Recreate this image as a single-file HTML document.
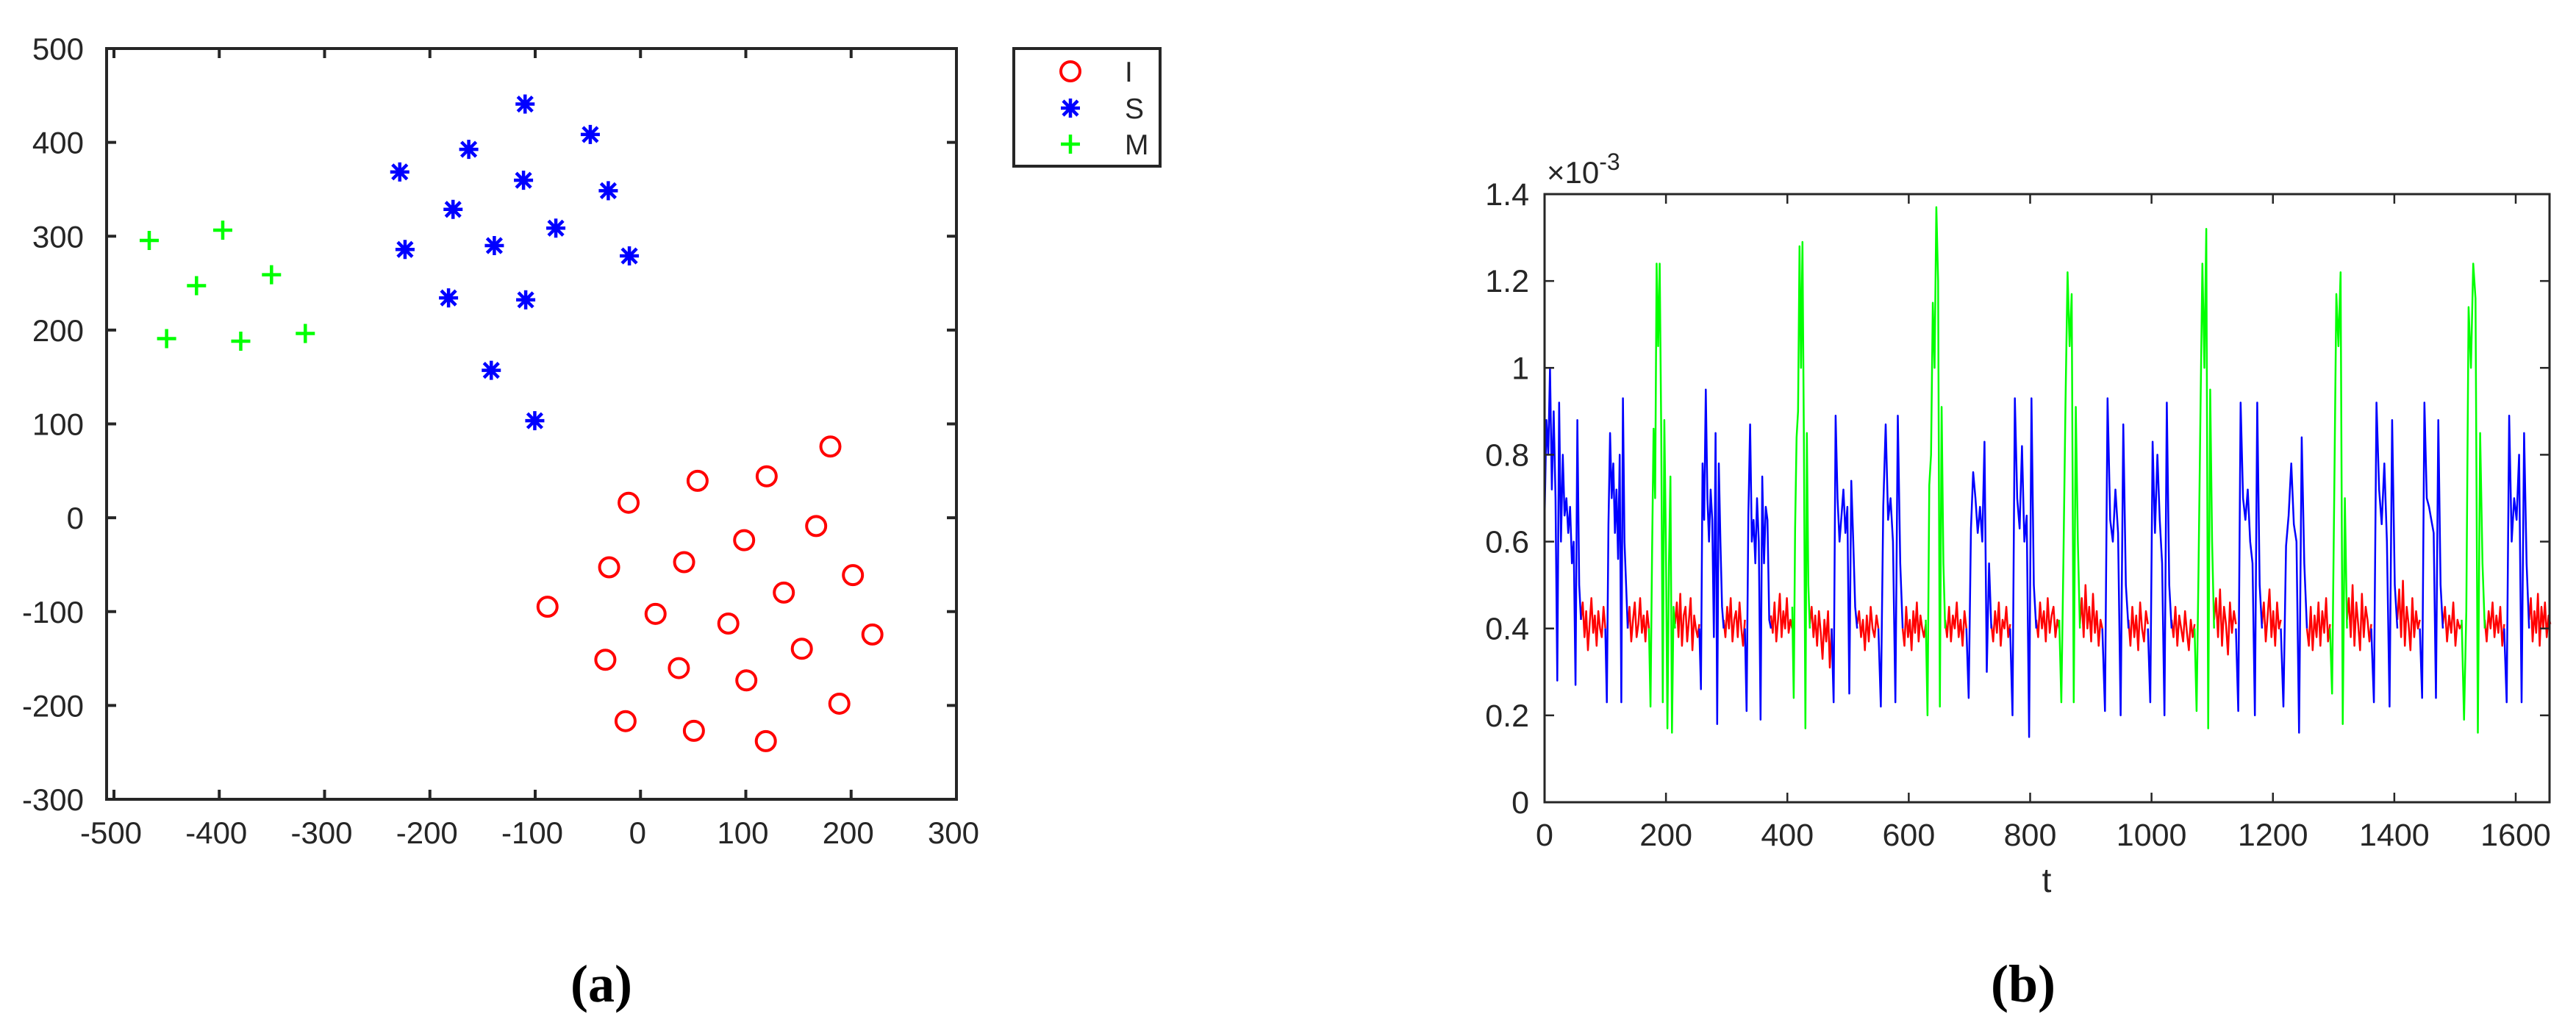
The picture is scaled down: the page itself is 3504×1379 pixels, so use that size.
<!DOCTYPE html>
<html><head><meta charset="utf-8"><style>
html,body{margin:0;padding:0;background:#fff;overflow:hidden;}
svg{display:block;}
text{font-family:"Liberation Sans",sans-serif;fill:#262626;}
.cap{font-family:"Liberation Serif",serif;font-weight:bold;fill:#000;}
</style></head><body>
<svg id="fig" width="3504" height="1379" viewBox="0 0 3504 1379" xmlns="http://www.w3.org/2000/svg">
<g id="chartA"></g>
<g id="chartB"></g>
<text class="cap" x="818" y="1362" font-size="72" text-anchor="middle">(a)</text>
<text class="cap" x="2752" y="1362" font-size="72" text-anchor="middle">(b)</text>
</svg>
<script>
// ---------- Chart A data ----------
const xTicksA = [-500,-400,-300,-200,-100,0,100,200,300];
const yTicksA = [-300,-200,-100,0,100,200,300,400,500];
const groupNames = ["I","S","M"];
const groupIX = [180.3,54.2,119.8,-11.3,166.8,98.4,-29.8,41.4,201.7,136.1,-88.3,14.3,83.4,220.2,153.2,-33.4,36.4,100.5,188.8,-14.2,50.7,119];
const groupIY = [75.9,39.4,44.2,16,-8.8,-23.9,-52.8,-47.3,-61.1,-79.7,-94.8,-102.4,-112.7,-124.4,-139.6,-151.3,-160.2,-173.3,-198.1,-216.7,-227,-238];
const groupSX = [-109.6,-47.7,-163.1,-228.6,-111.1,-30.6,-178,-80.4,-223.6,-138.8,-10.6,-182.3,-109,-141.7,-100.4];
const groupSY = [440.8,408.4,392.6,368.5,359.6,348.5,328.6,308.6,285.9,290,279,234.3,232.2,157.1,103.4];
const groupMX = [-466.5,-396.7,-421.6,-350.4,-450,-379.6,-318.3];
const groupMY = [295.5,306.5,247.3,259,190.9,188.1,196.4];

// ---------- Chart B data (values ×1e-3) ----------
const xTicksB = [0,200,400,600,800,1000,1200,1400,1600];
const yTicksB = [0,0.2,0.4,0.6,0.8,1,1.2,1.4];
const yTickLabelsB = ["0","0.2","0.4","0.6","0.8","1","1.2","1.4"];
const activeStarts = [0,100,172,255,330,408,473,550,628,695,767,848,919,994,1071,1139,1213,1294,1362,1442,1511,1581];
const activeEnds   = [60,137,215,295,373,437,515,590,660,736,810,882,962,1033,1103,1182,1256,1322,1405,1480,1549,1622];
const activeKinds  = ["S","S","M","S","S","M","S","S","M","S","S","M","S","S","M","S","S","M","S","S","M","S"];
const activeVals = [
[0.65,0.88,0.8,1.0,0.72,0.9,0.7,0.28,0.92,0.6,0.8,0.66,0.7,0.62,0.68,0.55,0.6,0.27,0.88,0.5,0.42],
[0.4,0.23,0.64,0.85,0.7,0.78,0.62,0.72,0.56,0.8,0.23,0.93,0.6,0.5,0.4],
[0.4,0.22,0.57,0.86,0.7,1.24,1.05,1.24,0.85,0.23,0.88,0.6,0.17,0.55,0.75,0.16,0.45,0.4],
[0.4,0.26,0.78,0.65,0.95,0.7,0.6,0.72,0.65,0.38,0.85,0.18,0.78,0.6,0.45,0.4],
[0.4,0.21,0.66,0.87,0.6,0.65,0.55,0.7,0.6,0.19,0.75,0.55,0.68,0.65,0.42,0.4],
[0.45,0.24,0.63,0.84,0.9,1.28,1.0,1.29,0.82,0.17,0.85,0.5,0.4],
[0.4,0.23,0.89,0.7,0.6,0.66,0.72,0.62,0.68,0.25,0.74,0.6,0.45,0.4],
[0.4,0.22,0.68,0.87,0.65,0.7,0.6,0.23,0.89,0.55,0.4],
[0.42,0.2,0.73,0.8,1.15,1.0,1.37,1.2,0.22,0.91,0.55,0.4],
[0.4,0.24,0.63,0.76,0.7,0.62,0.68,0.6,0.83,0.3,0.55,0.4],
[0.4,0.2,0.93,0.7,0.63,0.82,0.6,0.66,0.15,0.93,0.5,0.4],
[0.42,0.23,0.55,0.92,1.22,1.05,1.17,0.23,0.91,0.6,0.4],
[0.4,0.21,0.93,0.65,0.6,0.72,0.62,0.2,0.87,0.5,0.4],
[0.4,0.23,0.83,0.62,0.8,0.65,0.55,0.2,0.92,0.5,0.4],
[0.4,0.21,0.53,0.9,1.24,1.0,1.32,0.17,0.95,0.6,0.4],
[0.4,0.21,0.92,0.7,0.65,0.72,0.6,0.55,0.2,0.92,0.5,0.4],
[0.4,0.22,0.59,0.66,0.78,0.64,0.6,0.16,0.84,0.55,0.4],
[0.4,0.25,0.7,1.17,1.05,1.22,0.18,0.7,0.4],
[0.4,0.23,0.92,0.72,0.64,0.78,0.6,0.22,0.88,0.5,0.4],
[0.4,0.24,0.92,0.7,0.68,0.65,0.62,0.24,0.88,0.5,0.4],
[0.42,0.19,0.44,1.14,1.0,1.24,1.16,0.16,0.85,0.55,0.4],
[0.4,0.23,0.89,0.6,0.7,0.65,0.8,0.23,0.85,0.55,0.4]
];
const restVals = [
[0.42,0.46,0.38,0.44,0.35,0.41,0.47,0.39,0.43,0.36,0.44,0.4,0.38,0.45,0.4],
[0.4,0.45,0.37,0.42,0.46,0.38,0.41,0.47,0.39,0.43,0.37,0.44,0.4],
[0.41,0.46,0.38,0.48,0.36,0.43,0.45,0.37,0.42,0.47,0.35,0.43,0.4,0.38,0.41],
[0.42,0.38,0.45,0.4,0.47,0.37,0.42,0.44,0.38,0.46,0.4,0.36,0.42],
[0.43,0.39,0.46,0.37,0.42,0.48,0.38,0.44,0.4,0.47,0.39,0.42,0.4],
[0.41,0.45,0.38,0.43,0.36,0.44,0.39,0.33,0.42,0.37,0.44,0.31,0.4],
[0.41,0.44,0.38,0.42,0.35,0.43,0.37,0.45,0.4,0.38,0.43,0.4],
[0.4,0.36,0.45,0.38,0.42,0.35,0.44,0.39,0.46,0.37,0.43,0.4,0.38,0.41],
[0.42,0.38,0.45,0.37,0.43,0.4,0.46,0.38,0.42,0.36,0.44,0.4],
[0.41,0.37,0.44,0.39,0.46,0.36,0.42,0.4,0.45,0.38,0.41],
[0.42,0.38,0.46,0.4,0.44,0.37,0.47,0.39,0.43,0.45,0.38,0.42,0.4],
[0.41,0.47,0.38,0.5,0.4,0.45,0.37,0.48,0.39,0.44,0.36,0.42,0.4],
[0.42,0.36,0.45,0.38,0.43,0.35,0.46,0.4,0.37,0.44,0.41],
[0.42,0.38,0.45,0.36,0.43,0.4,0.37,0.44,0.39,0.35,0.42,0.38,0.41],
[0.42,0.47,0.38,0.49,0.36,0.45,0.41,0.34,0.46,0.39,0.44,0.41],
[0.41,0.46,0.37,0.43,0.49,0.38,0.44,0.36,0.46,0.4,0.42],
[0.4,0.36,0.45,0.35,0.43,0.38,0.46,0.36,0.44,0.39,0.47,0.37,0.41],
[0.42,0.47,0.38,0.5,0.36,0.46,0.41,0.35,0.48,0.38,0.45,0.42,0.37,0.41],
[0.42,0.49,0.38,0.51,0.36,0.45,0.41,0.35,0.47,0.38,0.44,0.4,0.42],
[0.41,0.45,0.37,0.43,0.39,0.46,0.36,0.42,0.4,0.41],
[0.42,0.37,0.44,0.4,0.46,0.38,0.43,0.39,0.45,0.36,0.41],
[0.42,0.47,0.37,0.44,0.39,0.48,0.36,0.45,0.4,0.46,0.38,0.43,0.41]
];
const restStarts = [60,137,215,295,373,437,515,590,660,736,810,882,962,1033,1103,1182,1256,1322,1405,1480,1549,1622];
const restEnds   = [100,172,255,330,408,473,550,628,695,767,848,919,994,1071,1139,1213,1294,1362,1442,1511,1581,1657];

const NS = "http://www.w3.org/2000/svg";
function mk(parent, tag, attrs, text){
  const e = document.createElementNS(NS, tag);
  for (const k in attrs) e.setAttribute(k, attrs[k]);
  if (text !== undefined) e.textContent = text;
  parent.appendChild(e);
  return e;
}

// ---------- Draw Chart A ----------
(function(){
  const g = document.getElementById('chartA');
  const L=145, R=1301, T=66, B=1087;
  const sx = v => 155 + (v + 500) * (R - 155) / 800;
  const sy = v => B - (v + 300) * (B - T) / 800;
  xTicksA.forEach(v => {
    const x = sx(v);
    const t1 = mk(g,'line',{x1:x,y1:B,x2:x,y2:B-13,stroke:'#262626','stroke-width':4});
    
    
    mk(g,'line',{x1:x,y1:T,x2:x,y2:T+13,stroke:'#262626','stroke-width':4});
    const lb = mk(g,'text',{x:x-4,y:1147,'font-size':42,'text-anchor':'middle'}, String(v));
    
    
  });
  yTicksA.forEach(v => {
    const y = sy(v);
    mk(g,'line',{x1:L,y1:y,x2:L+13,y2:y,stroke:'#262626','stroke-width':4});
    mk(g,'line',{x1:R,y1:y,x2:R-13,y2:y,stroke:'#262626','stroke-width':4});
    const lb = mk(g,'text',{x:114,y:y+15,'font-size':42,'text-anchor':'end'}, String(v));
    
    
  });
  const box = mk(g,'rect',{x:L,y:T,width:R-L,height:B-T,fill:'none',stroke:'#262626','stroke-width':4});
  
  

  function circle(x,y){ const c = mk(g,'ellipse',{cx:x,cy:y,rx:13,ry:13,fill:'none',stroke:'#ff0000','stroke-width':4});
      }
  function star(x,y){ const p = mk(g,'path',{d:`M${x-13},${y}h26M${x},${y-13}v26M${x-10},${y-10}l20,20M${x+10},${y-10}l-20,20`,stroke:'#0000ff','stroke-width':4.5,fill:'none'});
      }
  function plus(x,y){ const p = mk(g,'path',{d:`M${x-13},${y}h26M${x},${y-13}v26`,stroke:'#00ff00','stroke-width':4.5,fill:'none'});
      }
  groupIX.forEach((v,i)=>circle(sx(v),sy(groupIY[i])));
  groupSX.forEach((v,i)=>star(sx(v),sy(groupSY[i])));
  groupMX.forEach((v,i)=>plus(sx(v),sy(groupMY[i])));

  const lg = mk(g,'g',{});
  
  
  mk(lg,'rect',{x:1379,y:66,width:199,height:160,fill:'#fff',stroke:'#262626','stroke-width':4});
  const ly = [97,147,196];
  const mx = 1456;
  mk(lg,'ellipse',{cx:mx,cy:ly[0],rx:13,ry:13,fill:'none',stroke:'#ff0000','stroke-width':4});
  mk(lg,'path',{d:`M${mx-13},${ly[1]}h26M${mx},${ly[1]-13}v26M${mx-10},${ly[1]-10}l20,20M${mx+10},${ly[1]-10}l-20,20`,stroke:'#0000ff','stroke-width':4.5});
  mk(lg,'path',{d:`M${mx-13},${ly[2]}h26M${mx},${ly[2]-13}v26`,stroke:'#00ff00','stroke-width':4.5});
  groupNames.forEach((n,i)=>{
    const t = mk(lg,'text',{x:1530,y:ly[i]+14,'font-size':39,fill:'#000'}, n);
    
    
  });
})();

// ---------- Draw Chart B ----------
(function(){
  const g = document.getElementById('chartB');
  const L=2101, R=3468, T=264, B=1091;
  const sx = v => L + v * (3422 - L) / 1600;
  const sy = v => B - v * (B - T) / 1.4;
  const colors = {S:'#0000ff', M:'#00ff00', I:'#ff0000'};
  function drawSeg(start,end,vals,color,name){
    const n = vals.length;
    let d = '';
    vals.forEach((v,i)=>{ const t = start + (end-start)*i/(n-1); d += (i?'L':'M') + sx(t).toFixed(1) + ',' + sy(v).toFixed(1); });
    const p = mk(g,'path',{d:d,fill:'none',stroke:color,'stroke-width':2.5,'stroke-linejoin':'round'});
    
    
  }
  restVals.forEach((vals,i)=>drawSeg(restStarts[i],restEnds[i],vals,colors.I,'series-i-segment'));
  activeVals.forEach((vals,i)=>drawSeg(activeStarts[i],activeEnds[i],vals,colors[activeKinds[i]], activeKinds[i]==='M'?'series-m-segment':'series-s-segment'));

  xTicksB.forEach(v=>{
    const x = sx(v);
    mk(g,'line',{x1:x,y1:B,x2:x,y2:B-13,stroke:'#262626','stroke-width':2.5});
    mk(g,'line',{x1:x,y1:T,x2:x,y2:T+13,stroke:'#262626','stroke-width':2.5});
    const lb = mk(g,'text',{x:x,y:1150,'font-size':43,'text-anchor':'middle'}, String(v));
    
    
  });
  yTicksB.forEach((v,i)=>{
    const y = sy(v);
    mk(g,'line',{x1:L,y1:y,x2:L+13,y2:y,stroke:'#262626','stroke-width':2.5});
    mk(g,'line',{x1:R,y1:y,x2:R-13,y2:y,stroke:'#262626','stroke-width':2.5});
    const lb = mk(g,'text',{x:2080,y:y+15,'font-size':43,'text-anchor':'end'}, yTickLabelsB[i]);
    
    
  });
  const box = mk(g,'rect',{x:L,y:T,width:R-L,height:B-T,fill:'none',stroke:'#262626','stroke-width':3});
  
  
  const ex = mk(g,'text',{x:2104,y:249,'font-size':42}, '×10');
  
  
  mk(ex,'tspan',{dy:-18,'font-size':32}, '-3');
  const xt = mk(g,'text',{x:2784,y:1213,'font-size':46,'text-anchor':'middle'}, 't');
  
  
})();
</script>
</body></html>
